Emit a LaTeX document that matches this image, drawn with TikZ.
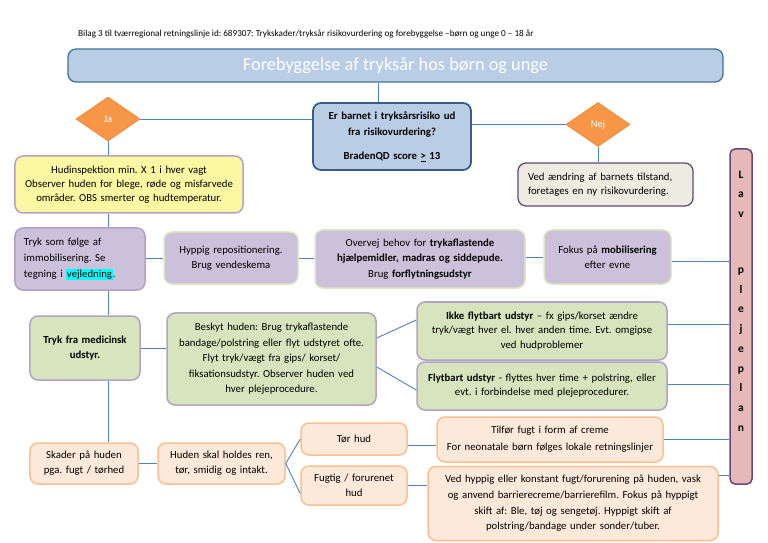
\documentclass[tikz,border=0pt]{standalone}
\usepackage{fontspec}
\setmainfont{Carlito}
\usetikzlibrary{shapes.geometric,calc}
\definecolor{titlefill}{HTML}{B9CDE5}
\definecolor{titledraw}{HTML}{41719C}
\definecolor{qdraw}{HTML}{385D8A}
\definecolor{orangefill}{HTML}{F79646}
\definecolor{orangedraw}{HTML}{F08A36}
\definecolor{greyfill}{HTML}{EEECE1}
\definecolor{darkpurple}{HTML}{604A7B}
\definecolor{yellowfill}{HTML}{FBF7A2}
\definecolor{lilac}{HTML}{B3A2C7}
\definecolor{purplefill}{HTML}{CCC1DA}
\definecolor{greenfill}{HTML}{D7E4BD}
\definecolor{greenline}{HTML}{DCE8C4}
\definecolor{peachfill}{HTML}{FDE9D9}
\definecolor{peachline}{HTML}{FAC090}
\definecolor{rosefill}{HTML}{E6B9B8}
\definecolor{connblue}{HTML}{4F81BD}
\definecolor{hlcyan}{HTML}{00FFFF}
\setlength{\fboxsep}{0.6pt}
\frenchspacing
\begin{document}
\begin{tikzpicture}[x=1bp,y=-1bp,
  base/.style={rectangle, rounded corners=8bp, line width=1.5bp, inner sep=2bp, align=center,
    font=\fontsize{10.8}{15.5}\selectfont, text=black},
  dia/.style={diamond, minimum width=64bp, minimum height=44bp, inner sep=0pt,
    fill=orangefill, draw=orangedraw, line width=0.8bp, text=white, font=\fontsize{10.5}{11}\selectfont},
  purplebox/.style={base, fill=purplefill, draw=greenline},
  greenbox/.style={base, fill=greenfill, draw=lilac},
  peachbox/.style={base, fill=peachfill, draw=peachline},
  conn/.style={draw=connblue, line width=0.9bp}]
\useasboundingbox (0,0) rectangle (768,543);

% header
\node[anchor=base west, inner sep=0pt, font=\fontsize{9.2}{11}\selectfont] (hdr) at (78,37)
  {Bilag 3 til tværregional retningslinje id: 689307: Trykskader/tryksår risikovurdering og forebyggelse –børn og unge 0 – 18 år};

% title
\node[base, fill=titlefill, draw=titledraw, line width=1.3bp, minimum width=655bp, minimum height=33bp,
  text=white, font=\fontsize{18.4}{20}\selectfont] (title) at (395.5,65.5) {Forebyggelse af tryksår hos børn og unge};

% question
\node[base, fill=titlefill, draw=qdraw, line width=1.8bp, minimum width=158bp, minimum height=67bp,
  text width=152bp, font=\fontsize{10.8}{16}\selectfont\bfseries] (q) at (392,136.5)
  {Er barnet i tryksårsrisiko ud\\ fra risikovurdering?\\[8bp] BradenQD score \underline{>} 13};

% diamonds
\node[dia] (ja) at (108,119) {Ja};
\node[dia] (nej) at (598,124.5) {Nej};

% nej branch
\node[base, fill=greyfill, draw=darkpurple, line width=1.3bp, minimum width=175bp, minimum height=43bp,
  text width=155bp, align=left, font=\fontsize{10.8}{14.5}\selectfont] (vedae) at (605.5,184.5)
  {Ved ændring af barnets tilstand,\\ foretages en ny risikovurdering.};

% ja branch
\node[base, fill=yellowfill, draw=lilac, minimum width=228bp, minimum height=57bp, text width=222bp,
  font=\fontsize{10.8}{14}\selectfont] (hud) at (129,184.5)
  {Hudinspektion min. X 1 i hver vagt\\ Observer huden for blege, røde og misfarvede\\ områder. OBS smerter og hudtemperatur.};

\node[base, fill=purplefill, draw=lilac, minimum width=130bp, minimum height=62bp, text width=112bp,
  align=left, font=\fontsize{10.8}{16}\selectfont] (tryk1) at (80,259)
  {Tryk som følge af\\ immobilisering. Se\\ tegning i \colorbox{hlcyan}{vejledning}.};

\node[purplebox, minimum width=134bp, minimum height=52bp, text width=128bp] (hyppig) at (231,258)
  {Hyppig repositionering.\\ Brug vendeskema};
\node[purplebox, minimum width=210bp, minimum height=58bp, text width=204bp] (overvej) at (420,259)
  {Overvej behov for \textbf{trykaflastende}\\ \textbf{hjælpemidler, madras og siddepude.}\\ Brug \textbf{forflytningsudstyr}};
\node[purplebox, minimum width=127bp, minimum height=54bp, text width=121bp] (fokus) at (607.5,257)
  {Fokus på \textbf{mobilisering}\\ efter evne};

% plan bar
\node[rectangle, rounded corners=5bp, fill=rosefill, draw=darkpurple, line width=1.5bp,
  minimum width=22bp, minimum height=335bp, inner sep=0pt] (lav) at (741,316.5) {};
\node[align=center, inner sep=0pt, font=\fontsize{11.5}{19.8}\selectfont\bfseries] (lavtext) at (741,301)
  {L\\ a\\ v\\[36bp] p\\ l\\ e\\ j\\ e\\ p\\ l\\ a\\ n};

% medical equipment
\node[greenbox, minimum width=110bp, minimum height=64bp, text width=104bp,
  font=\fontsize{10.8}{15.5}\selectfont\bfseries] (trykmed) at (85,348)
  {Tryk fra medicinsk\\ udstyr.};
\node[greenbox, minimum width=209bp, minimum height=92bp, text width=203bp] (beskyt) at (271.5,359)
  {Beskyt huden: Brug trykaflastende\\ bandage/polstring eller flyt udstyret ofte.\\ Flyt tryk/vægt fra gips/ korset/\\ fiksationsudstyr. Observer huden ved\\ hver plejeprocedure.};
\node[greenbox, minimum width=250bp, minimum height=58bp, text width=244bp,
  font=\fontsize{10.8}{14.5}\selectfont] (ikke) at (542,331)
  {\textbf{Ikke flytbart udstyr} – fx gips/korset ændre\\ tryk/vægt hver el. hver anden time. Evt. omgipse\\ ved hudproblemer};
\node[greenbox, minimum width=250bp, minimum height=48bp, text width=244bp,
  font=\fontsize{10.8}{14}\selectfont] (flyt) at (542,386)
  {\textbf{Flytbart udstyr} - flyttes hver time + polstring, eller\\ evt. i forbindelse med plejeprocedurer.};

% skin
\node[peachbox, minimum width=108bp, minimum height=41bp, text width=102bp,
  font=\fontsize{10.8}{15}\selectfont] (skader) at (84,463.5)
  {Skader på huden\\ pga. fugt / tørhed};
\node[peachbox, minimum width=127bp, minimum height=41bp, text width=121bp,
  font=\fontsize{10.8}{15}\selectfont] (huden) at (221.5,463.5)
  {Huden skal holdes ren,\\ tør, smidig og intakt.};
\node[peachbox, minimum width=106bp, minimum height=32bp, text width=100bp] (tor) at (354,439)
  {Tør hud};
\node[peachbox, minimum width=106bp, minimum height=39bp, text width=100bp,
  font=\fontsize{10.8}{15}\selectfont] (fugtig) at (354,485.5)
  {Fugtig / forurenet\\ hud};
\node[peachbox, minimum width=226bp, minimum height=45bp, text width=220bp,
  font=\fontsize{10.8}{17}\selectfont] (tilfor) at (550,439.5)
  {Tilfør fugt i form af creme\\ For neonatale børn følges lokale retningslinjer};
\node[peachbox, minimum width=290bp, minimum height=74bp, text width=284bp,
  font=\fontsize{10.8}{15.7}\selectfont] (vedh) at (573,503.5)
  {Ved hyppig eller konstant fugt/forurening på huden, vask\\ og anvend barrierecreme/barrierefilm. Fokus på hyppigt\\ skift af: Ble, tøj og sengetøj. Hyppigt skift af\\ polstring/bandage under sonder/tuber.};

% connectors
\coordinate (tq) at (378,103);
\draw[conn] (tq |- title.south) -- (tq |- q.north);
\draw[conn] (ja.east) -- (ja.east -| q.west);
\draw[conn] (nej.west -| q.east) -- (nej.west);
\draw[conn] (nej.south) -- (nej.south |- vedae.north);
\draw[conn] (ja.south) -- (ja.south |- hud.north);
\draw[conn] (ja.south |- hud.south) -- (ja.south |- tryk1.north);
\draw[conn] (hyppig.west -| tryk1.east) -- (hyppig.west);
\draw[conn] (hyppig.east) -- (hyppig.east -| overvej.west);
\draw[conn] (fokus.west -| overvej.east) -- (fokus.west);
\coordinate (f1) at ($(fokus.east)+(0,4)$);
\draw[conn] (f1) -- (f1 -| lav.west);
\draw[conn] (ja.south |- tryk1.south) -- (ja.south |- trykmed.north);
\draw[conn] (trykmed.east) -- (trykmed.east -| beskyt.west);
\draw[conn] ($(beskyt.east)+(0,-21)$) -- ($(ikke.west)+(0,-11)$);
\draw[conn] ($(beskyt.east)+(0,8)$) -- ($(flyt.west)+(0,4)$);
\coordinate (i1) at ($(ikke.east)+(0,-7)$);
\draw[conn] (i1) -- (i1 -| lav.west);
\coordinate (fl1) at ($(flyt.east)+(0,-2)$);
\draw[conn] (fl1) -- (fl1 -| lav.west);
\draw[conn] (ja.south |- trykmed.south) -- (ja.south |- skader.north);
\draw[conn] (skader.east) -- (skader.east -| huden.west);
\draw[conn] (huden.east) -- (tor.west);
\draw[conn] (huden.east) -- ($(fugtig.west)+(0,8)$);
\coordinate (t1) at ($(tor.east)+(0,6)$);
\draw[conn] (t1) -- (t1 -| tilfor.west);
\draw[conn] (tilfor.east) -- (tilfor.east -| lav.west);
\draw[conn] (fugtig.east) -- (fugtig.east -| vedh.west);
\coordinate (v1) at ($(vedh.north east)+(0,10)$);
\draw[conn] (v1) -- (v1 -| lav.west);
\end{tikzpicture}
\end{document}
